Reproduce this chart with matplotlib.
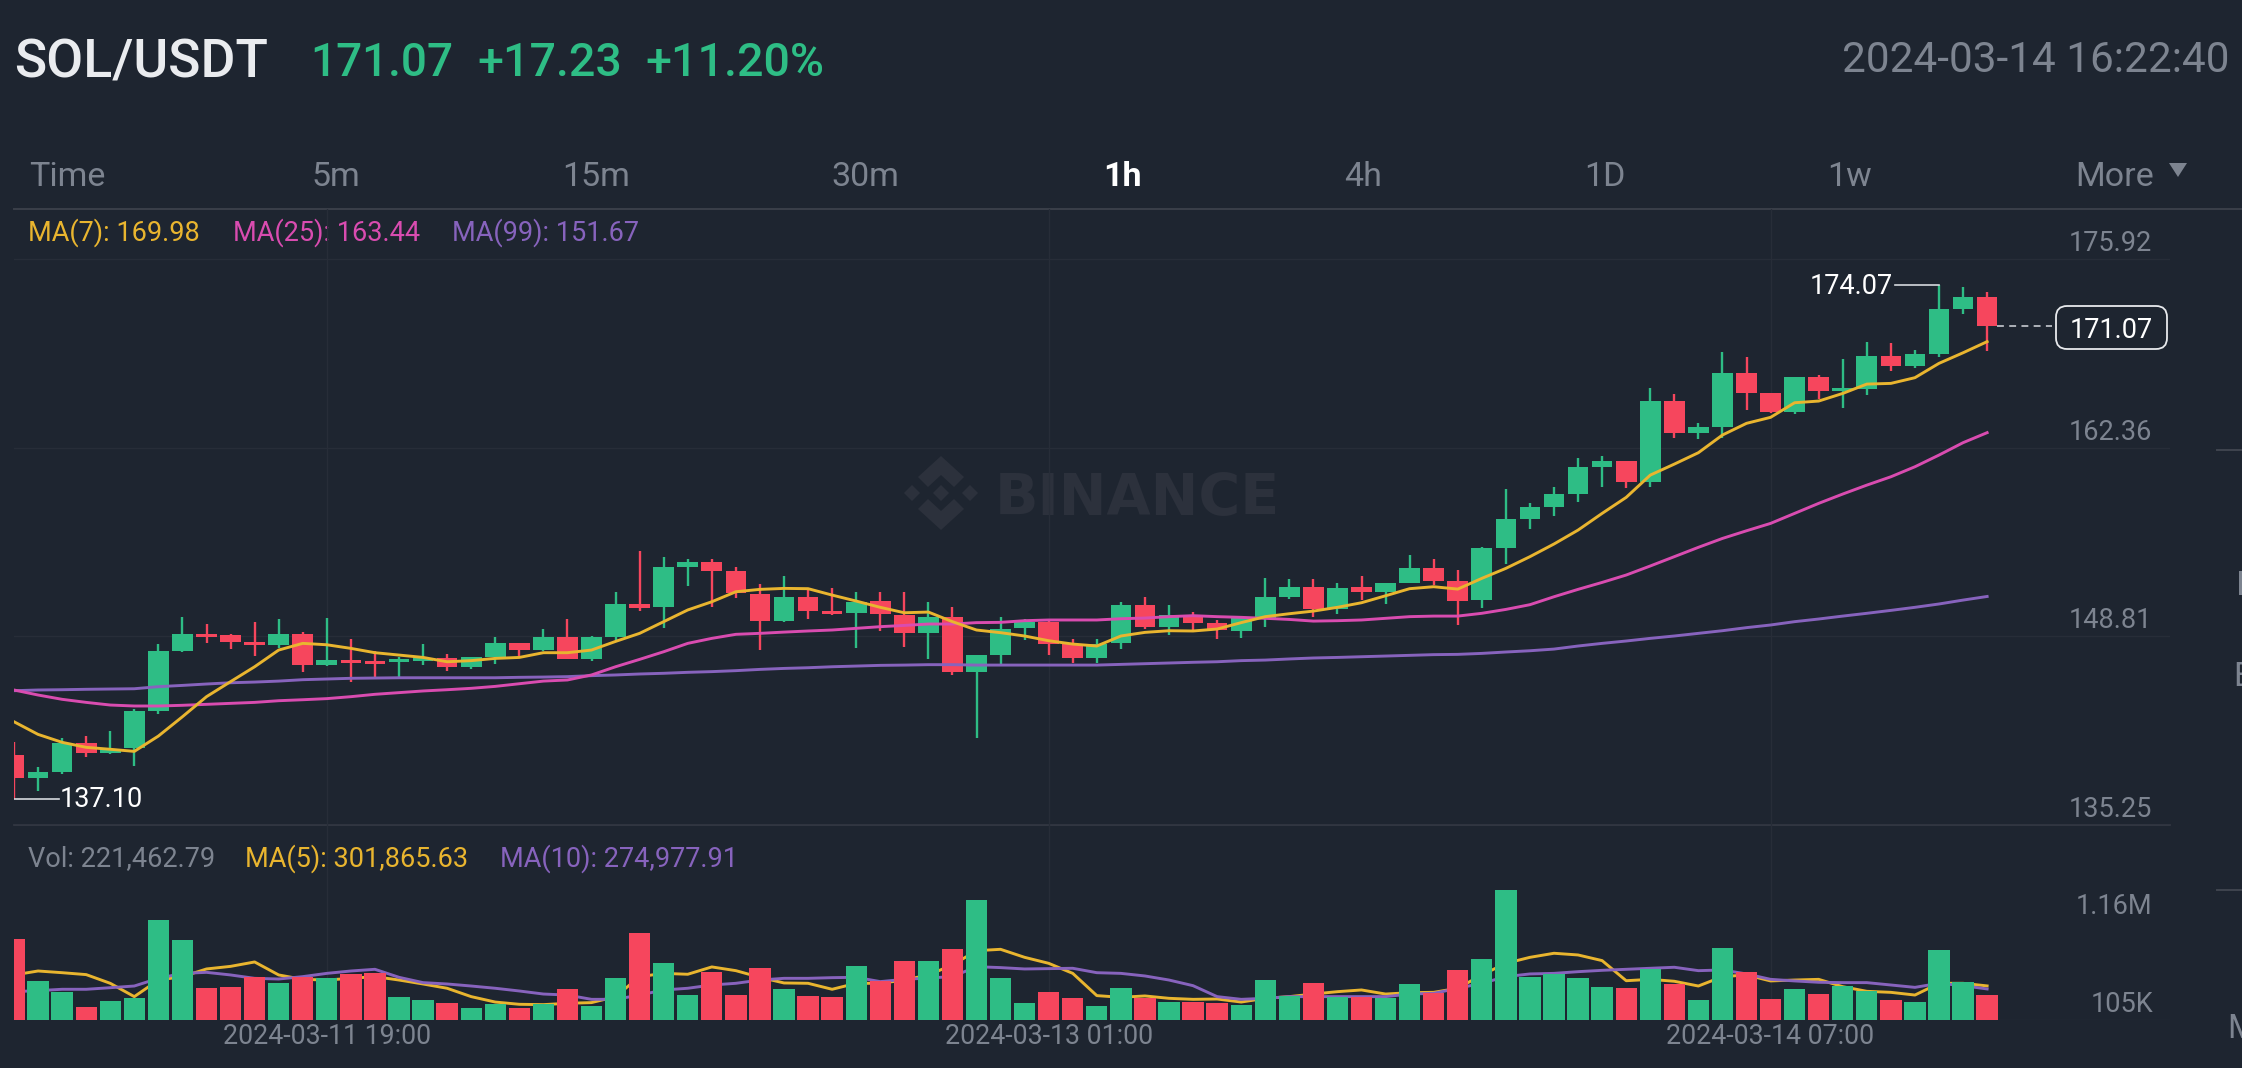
import matplotlib
matplotlib.use('Agg')
import matplotlib.pyplot as plt
from matplotlib.patches import FancyBboxPatch, Polygon
import numpy as np

opens = [140.28, 138.60, 139.03, 141.16, 140.45, 140.76, 143.46, 147.77, 148.97, 148.88,
         148.40, 148.20, 149.00, 146.74, 147.08, 147.01, 146.98, 147.06, 147.25, 146.62,
         147.29, 148.35, 147.80, 148.76, 147.15, 148.76, 151.10, 150.91, 153.78, 154.12,
         153.47, 151.84, 149.93, 151.65, 150.60, 150.46, 151.32, 150.36, 149.02, 150.22,
         146.22, 147.46, 149.38, 149.83, 148.28, 147.27, 148.30, 151.03, 149.47, 150.34,
         149.79, 149.21, 150.10, 151.65, 152.37, 150.74, 152.32, 151.96, 152.63, 153.69,
         152.80, 151.39, 155.13, 157.21, 158.12, 159.00, 160.97, 161.37, 159.87, 165.71,
         163.43, 163.87, 167.70, 166.31, 164.89, 167.41, 166.45, 166.55, 168.97, 168.25,
         169.06, 172.29, 173.20]
closes = [138.60, 139.03, 141.12, 140.45, 140.69, 143.46, 147.77, 148.95, 148.78, 148.37,
          148.20, 149.00, 146.74, 147.08, 146.86, 146.82, 147.18, 147.25, 146.62, 147.29,
          148.35, 147.80, 148.76, 147.18, 148.76, 151.10, 150.86, 153.78, 154.12, 153.47,
          151.89, 149.93, 151.65, 150.65, 150.41, 151.29, 150.38, 149.04, 150.22, 146.22,
          147.46, 149.31, 149.83, 148.28, 147.27, 148.23, 151.03, 149.47, 150.34, 149.79,
          149.26, 150.10, 151.65, 152.37, 150.74, 152.30, 151.96, 152.63, 153.69, 152.80,
          151.37, 155.13, 157.21, 158.12, 159.00, 160.97, 161.37, 159.87, 165.71, 163.43,
          163.87, 167.70, 166.31, 164.89, 167.41, 166.45, 166.62, 168.97, 168.25, 169.06,
          172.29, 173.18, 171.07]
highs = [141.24, 139.44, 141.48, 141.67, 141.98, 143.56, 148.25, 150.22, 149.69, 148.95,
         149.81, 150.02, 149.11, 150.10, 148.59, 147.77, 147.34, 148.25, 147.53, 147.34,
         148.73, 148.35, 149.31, 150.02, 148.83, 151.96, 154.96, 154.53, 154.36, 154.34,
         153.81, 152.54, 153.16, 152.13, 152.28, 151.96, 151.96, 151.96, 151.27, 150.93,
         147.49, 150.19, 150.02, 149.88, 148.59, 148.64, 151.27, 151.61, 151.08, 150.55,
         149.98, 150.22, 152.97, 152.90, 152.90, 152.61, 153.11, 152.66, 154.65, 154.34,
         153.57, 155.25, 159.39, 158.41, 159.56, 161.59, 161.78, 161.37, 166.67, 166.19,
         164.11, 169.21, 168.89, 166.31, 167.46, 167.55, 168.70, 169.92, 169.85, 169.37,
         174.07, 173.87, 173.54]
lows = [137.10, 137.69, 138.91, 140.11, 140.35, 139.51, 143.22, 147.68, 148.30, 147.89,
        147.41, 147.94, 146.22, 146.70, 145.50, 145.71, 145.91, 146.74, 146.31, 146.43,
        146.79, 147.34, 147.77, 147.15, 147.03, 148.54, 150.62, 149.38, 152.42, 150.93,
        151.53, 147.82, 149.86, 150.07, 150.34, 147.99, 149.21, 148.06, 147.18, 146.05,
        141.48, 146.84, 148.54, 147.46, 146.91, 146.91, 147.87, 149.35, 148.88, 149.21,
        148.64, 148.68, 149.50, 151.51, 150.17, 150.43, 151.41, 151.13, 152.61, 152.51,
        149.62, 150.84, 154.00, 156.54, 157.45, 158.43, 159.56, 159.44, 159.56, 163.08,
        162.96, 163.08, 165.06, 164.84, 164.80, 165.83, 165.18, 166.14, 167.86, 168.08,
        168.87, 171.98, 169.33]

ma7 = [142.67, 141.76, 141.19, 140.83, 140.69, 140.54, 141.64, 143.03, 144.47, 145.55,
       146.62, 147.82, 148.30, 148.20, 147.94, 147.63, 147.46, 147.29, 146.98, 147.06,
       147.22, 147.29, 147.63, 147.63, 147.82, 148.44, 149.02, 149.86, 150.70, 151.29,
       152.01, 152.18, 152.25, 152.23, 151.77, 151.34, 150.89, 150.50, 150.55, 149.86,
       149.26, 149.07, 148.83, 148.49, 148.25, 148.11, 148.83, 149.09, 149.21, 149.19,
       149.33, 149.79, 150.22, 150.43, 150.62, 150.89, 151.22, 151.72, 152.23, 152.37,
       152.20, 152.97, 153.69, 154.53, 155.44, 156.44, 157.64, 158.79, 160.39, 161.18,
       162.00, 163.27, 164.11, 164.54, 165.59, 165.71, 166.26, 166.93, 166.98, 167.39,
       168.42, 169.18, 169.98]
ma25 = [144.95, 144.59, 144.28, 144.06, 143.87, 143.80, 143.80, 143.85, 143.92, 143.99,
        144.06, 144.18, 144.25, 144.33, 144.47, 144.64, 144.76, 144.88, 144.97, 145.07,
        145.21, 145.40, 145.59, 145.67, 146.03, 146.62, 147.15, 147.70, 148.30, 148.66,
        148.95, 149.02, 149.11, 149.19, 149.26, 149.38, 149.50, 149.59, 149.69, 149.69,
        149.79, 149.81, 149.93, 149.98, 149.98, 149.98, 150.07, 150.12, 150.22, 150.29,
        150.22, 150.17, 150.10, 150.02, 149.90, 149.93, 149.98, 150.10, 150.22, 150.26,
        150.26, 150.46, 150.74, 151.08, 151.65, 152.18, 152.68, 153.21, 153.86, 154.53,
        155.20, 155.84, 156.39, 156.92, 157.64, 158.36, 159.03, 159.67, 160.27, 160.99,
        161.83, 162.72, 163.44]
ma99 = [144.90, 144.95, 144.97, 145.00, 145.02, 145.04, 145.19, 145.28, 145.38, 145.47,
        145.52, 145.59, 145.69, 145.74, 145.79, 145.81, 145.83, 145.83, 145.83, 145.83,
        145.83, 145.86, 145.88, 145.91, 145.98, 146.03, 146.10, 146.15, 146.22, 146.27,
        146.34, 146.43, 146.50, 146.55, 146.62, 146.67, 146.72, 146.74, 146.77, 146.77,
        146.74, 146.74, 146.74, 146.74, 146.74, 146.74, 146.79, 146.84, 146.89, 146.94,
        146.98, 147.06, 147.10, 147.18, 147.25, 147.29, 147.34, 147.39, 147.44, 147.49,
        147.51, 147.58, 147.68, 147.77, 147.89, 148.11, 148.30, 148.47, 148.66, 148.83,
        149.02, 149.21, 149.43, 149.62, 149.86, 150.05, 150.26, 150.46, 150.67, 150.89,
        151.13, 151.41, 151.67]

# volumes in thousands
volumes = [718, 345, 245, 118, 171, 192, 883, 709, 283, 295, 381, 325, 378, 375, 410, 413,
           204, 177, 154, 103, 142, 109, 142, 275, 127, 375, 771, 508, 219, 428, 224, 461,
           275, 213, 204, 478, 345, 523, 520, 626, 1063, 369, 148, 248, 192, 121, 286, 192,
           159, 159, 154, 130, 354, 216, 328, 207, 207, 198, 322, 242, 446, 540, 1152, 384,
           408, 372, 295, 286, 452, 319, 174, 635, 422, 189, 275, 230, 301, 257, 177, 162,
           617, 340, 221.46]
vol_ma5 = [399, 434, 419, 402, 325, 207, 354, 384, 452, 475, 514, 399, 360, 354, 369, 384,
           354, 319, 281, 207, 159, 139, 136, 148, 154, 207, 384, 413, 405, 470, 437, 378,
           328, 325, 272, 325, 325, 354, 399, 487, 614, 626, 555, 502, 413, 216, 201, 213,
           192, 183, 186, 159, 192, 207, 230, 251, 266, 230, 242, 245, 281, 399, 502, 555,
           591, 576, 526, 348, 360, 343, 301, 384, 399, 346, 354, 360, 295, 254, 245, 221,
           325, 325, 301.87]
vol_ma10 = [251, 260, 272, 272, 286, 301, 369, 413, 422, 399, 369, 363, 384, 413, 434, 449,
            378, 331, 319, 301, 281, 257, 230, 221, 183, 183, 221, 266, 281, 310, 325, 354,
            369, 369, 375, 378, 340, 360, 372, 384, 472, 464, 452, 455, 458, 419, 413, 390,
            354, 304, 207, 183, 192, 207, 207, 207, 207, 207, 230, 236, 281, 325, 384, 408,
            413, 428, 440, 449, 458, 467, 437, 443, 408, 360, 346, 334, 331, 331, 310, 289,
            325, 304, 274.98]

price_ticks = [135.25, 148.81, 162.36, 175.92]
price_labels = ['135.25', '148.81', '162.36', '175.92']
date_ticks = [13, 43, 73]
date_labels = ['2024-03-11 19:00', '2024-03-13 01:00', '2024-03-14 07:00']
tabs = ['Time', '5m', '15m', '30m', '1h', '4h', '1D', '1w', 'More']
tab_x = [67, 336, 596, 865, 1122, 1363, 1605, 1849, 2115]

bg_col = '#1e2530'
grid_col = '#272d38'
green = '#2ebd85'
red = '#f6465d'
grey = '#7d8490'
yellow = '#e9b52f'
pink = '#d94cb0'
purple = '#8763bd'

W, H = 2242, 1068
plt.rcParams['font.family'] = ['Roboto', 'DejaVu Sans']

fig = plt.figure(figsize=(W / 100, H / 100), dpi=100, facecolor=bg_col)

# overlay in pixel coordinates for the app chrome around the chart
bg = fig.add_axes([0, 0, 1, 1], zorder=0)
bg.set_xlim(0, W)
bg.set_ylim(H, 0)
bg.axis('off')


def px_axes(left, top, right, bottom, z):
    a = fig.add_axes([left / W, 1 - bottom / H, (right - left) / W, (bottom - top) / H], zorder=z)
    a.patch.set_alpha(0)
    for s in a.spines.values():
        s.set_visible(False)
    a.tick_params(length=0)
    return a


xs = np.arange(len(opens))
o, c, hi, lo = map(np.array, (opens, closes, highs, lows))
up = c >= o
cols = [green if u else red for u in up]
xmax = 89.6

# price panel
ax = px_axes(14, 209, 2170, 825, 2)
ax.set_xlim(0, xmax)
ax.set_ylim(135.25, 179.51)
ax.set_xticks(date_ticks)
ax.set_xticklabels([])
ax.set_yticks(price_ticks)
ax.set_yticklabels([])
ax.grid(True, color=grid_col, lw=0.9)
ax.set_axisbelow(True)

ax.vlines(xs, lo, hi, colors=cols, lw=1.7, zorder=3)
ax.bar(xs, np.maximum(np.abs(c - o), 0.15), bottom=np.minimum(o, c), width=0.86, color=cols, zorder=3)
ax.plot(xs, ma99, color=purple, lw=2.1, zorder=4)
ax.plot(xs, ma25, color=pink, lw=2.1, zorder=5)
ax.plot(xs, ma7, color=yellow, lw=2.1, zorder=6)

for t, lab in zip(price_ticks, price_labels):
    ax.annotate(lab, (1, t), xycoords=ax.get_yaxis_transform(), xytext=(-13, 11), textcoords='offset points',
                ha='right', va='center', color=grey, fontsize=19.5)

# high / low markers
imax, imin = int(np.argmax(hi)), int(np.argmin(lo))
ax.plot([imax, imax - 1.83], [hi[imax]] * 2, color='#d5d8de', lw=1.2, zorder=7)
ax.annotate(f'{hi[imax]:.2f}', (imax - 1.83, hi[imax]), xytext=(-1.5, -1), textcoords='offset points',
            ha='right', va='center', color='white', fontsize=19.5, zorder=7)
ax.plot([imin, imin + 1.86], [lo[imin]] * 2, color='#d5d8de', lw=1.2, zorder=7)
ax.annotate(f'{lo[imin]:.2f}', (imin + 1.86, lo[imin]), xytext=(0.5, 0), textcoords='offset points',
            ha='left', va='center', color='white', fontsize=19.5, zorder=7)

# last price line and box
ax.plot([xs[-1] + 0.4, 84.7], [c[-1]] * 2, color='#d5d8de', lw=1.1, dashes=(4.5, 3.5), zorder=7)
bg.add_patch(FancyBboxPatch((2056, 306), 111, 43, boxstyle='round,pad=0,rounding_size=11',
                            fc=bg_col, ec='#e8eaed', lw=1.3))
bg.text(2111.5, 330, f'{c[-1]:.2f}', color='white', fontsize=19.5, ha='center', va='center')

# volume panel
vax = px_axes(14, 825, 2170, 1020, 2)
vax.set_xlim(0, xmax)
vax.set_ylim(0, 1727)
vax.set_yticks([0])
vax.set_yticklabels([])
vax.set_xticks(date_ticks)
vax.set_xticklabels(date_labels, color=grey, fontsize=19.3)
vax.tick_params(axis='x', pad=2)
vax.grid(True, color=grid_col, lw=0.9)
vax.set_axisbelow(True)
vax.plot(xs, vol_ma5, color=yellow, lw=2.1, zorder=2)
vax.plot(xs, vol_ma10, color=purple, lw=2.1, zorder=2.1)
vax.bar(xs, volumes, width=0.885, color=cols, zorder=3)

# separators
bg.plot([14, W], [209, 209], color='#3a3f49', lw=1.4)
bg.plot([14, 2170], [825, 825], color='#353a45', lw=1.2)
bg.plot([2217, W], [450, 450], color='#3f444e', lw=1.4)
bg.plot([2217, W], [890, 890], color='#3f444e', lw=1.4)

# header
bg.text(14, 63, 'SOL/USDT', color='#eaecef', fontsize=38.5, fontweight='medium', ha='left', va='center')
bg.text(310, 63, '171.07', color=green, fontsize=33, fontweight='medium', ha='left', va='center')
bg.text(477, 63, '+17.23', color=green, fontsize=33.5, fontweight='medium', ha='left', va='center')
bg.text(645, 63, '+11.20%', color=green, fontsize=33.5, fontweight='medium', ha='left', va='center')
bg.text(2230, 60, '2024-03-14 16:22:40', color=grey, fontsize=30.4, ha='right', va='center')

for t, x in zip(tabs, tab_x):
    active = t == '1h'
    bg.text(x, 177, t, color='white' if active else grey, fontsize=24.5,
            fontweight='bold' if active else 'normal', ha='center', va='center')
bg.add_patch(Polygon([(2169, 163), (2187, 163), (2178, 177)], fc=grey, ec='none'))

# legends
for x, txt, col in [(28, 'MA(7): 169.98', yellow), (233, 'MA(25): 163.44', pink), (452, 'MA(99): 151.67', purple)]:
    bg.text(x, 233, txt, color=col, fontsize=19.5, ha='left', va='center')
for x, txt, col in [(28, 'Vol: 221,462.79', grey), (245, 'MA(5): 301,865.63', yellow), (500, 'MA(10): 274,977.91', purple)]:
    bg.text(x, 859, txt, color=col, fontsize=19.5, ha='left', va='center')

bg.text(2152, 907, '1.16M', color=grey, fontsize=19.5, ha='right', va='center')
bg.text(2153, 1005, '105K', color=grey, fontsize=19.5, ha='right', va='center')

# clipped labels of the next panel at the right edge
bg.text(2236, 586, 'I', color=grey, fontsize=24, ha='left', va='center')
bg.text(2233, 677, 'E', color=grey, fontsize=24, ha='left', va='center')
bg.text(2227, 1029, 'M', color=grey, fontsize=24, ha='left', va='center')

# watermark
wm = '#2c313c'
cx, cy = 941, 493
bg.text(995, 499, 'BINANCE', color=wm, fontsize=41, fontweight='bold', family='DejaVu Sans', ha='left', va='center')
for sign in (-1, 1):
    chevron = [(0, -37), (23, -16), (13, -6), (0, -18), (-13, -6), (-23, -16)]
    bg.add_patch(Polygon([(cx + a, cy + sign * b) for a, b in chevron], fc=wm, ec='none'))
    dx = sign * 29
    bg.add_patch(Polygon([(cx + dx - 8, cy), (cx + dx, cy - 8), (cx + dx + 8, cy), (cx + dx, cy + 8)], fc=wm, ec='none'))
bg.add_patch(Polygon([(cx - 8, cy), (cx, cy - 8), (cx + 8, cy), (cx, cy + 8)], fc=wm, ec='none'))

fig.savefig('out.png', dpi=100, facecolor=bg_col)
